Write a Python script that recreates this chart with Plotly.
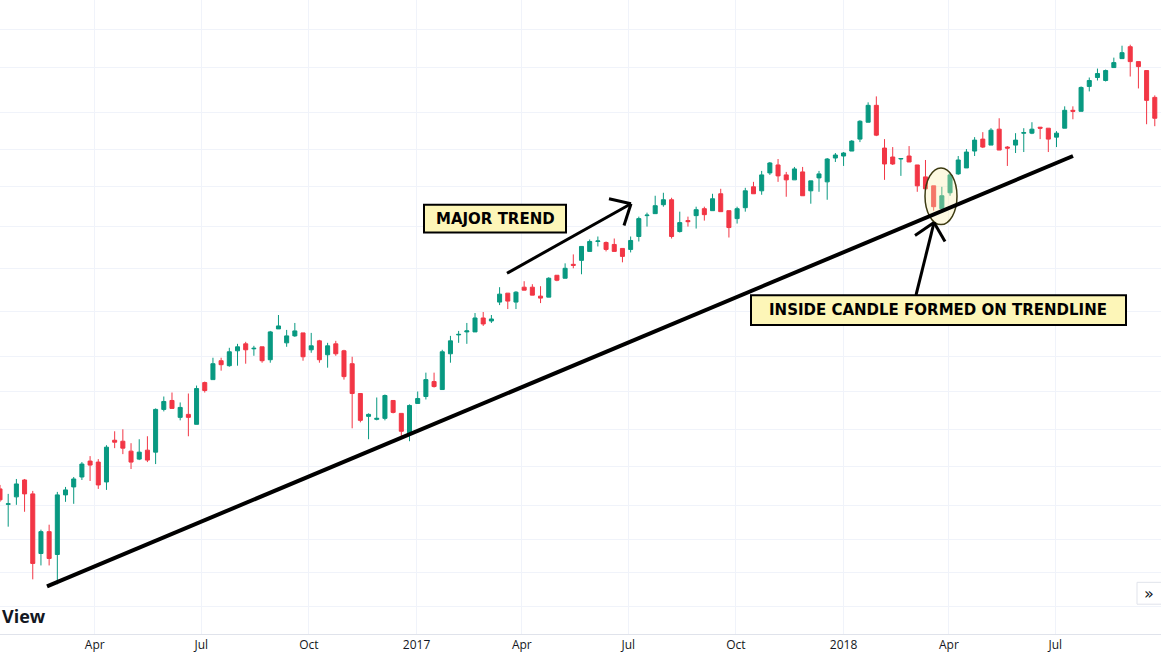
import plotly.graph_objects as go
import pandas as pd

# Pixel-height readings from the reference (screen y, top = 0); price = 638 - reading
open_y = [492,507.5,500,483,497,557,535,558,498,490,480,464,465,485,443,444,454,462,453,455,412,403,420,417,427,385,382,363,368,353,346,351,349,362,331,345,338,335,352,343,357,346,353,366,396,419,422,421,403,416,437,406,399,384,392,356,337,334,334,320,323,304,295,304,289,289,298,299,277,280,266,262,253,243,244,246,250,251,238,217,215,206,201,233,222,217,210,212,195,212,220,209,188,192,174,166,176,181,173,192,179,183,159,157,152,140,123,106,149,158,160,157,166,178,187,210,194,175,169,152,140,146,130,148,146,134,134,128,129,138,129,111,112,87,78,81,68,59,47,62,71,98]
high_y = [488,497,482,482,494,533,528,495,490,480,465,459,462,448,434,432,446,442,439,411,399,395,405,396,388,384,360,360,350,346,344,348,349,333,317,332,325,335,335,342,345,343,352,359,396,416,400,397,403,416,407,394,375,375,352,338,333,325,315,314,317,289,295,293,283,286,288,279,277,265,256,248,241,238,243,240,250,238,218,214,197,194,199,213,218,208,208,195,190,212,208,189,183,172,163,160,173,168,168,182,172,159,154,153,141,121,103,97,140,148,159,147,166,161,187,188,174,157,150,138,133,129,119,147,134,129,123,128,129,132,107,107,87,78,69,70,58,46,45,62,71,96]
low_y = [505,530,508,515,583,569,569,588,505,507,483,484,492,493,451,457,472,463,465,467,414,411,423,439,427,395,382,373,369,368,366,358,365,365,331,349,339,363,355,365,370,358,382,431,425,442,423,423,416,439,444,406,402,390,392,365,345,346,334,328,325,307,311,311,292,297,305,299,283,280,270,276,253,248,253,253,264,254,243,228,215,208,240,234,228,230,222,212,213,239,225,213,195,196,176,183,198,181,197,205,193,201,163,167,152,143,123,137,181,166,177,163,193,190,212,212,197,176,169,157,149,146,151,167,154,153,135,140,153,148,129,120,112,92,81,82,68,59,77,89,125,127]
close_y = [503,507,487,497,567,535,562,498,493,482,467,468,488,450,445,451,465,455,463,412,404,411,410,420,391,393,366,367,354,349,352,350.5,363,334,328,338,333,359,348,362,348,356,379,396,423,417,421,398,415,434,408,401,382,389,354,343,336.5,333,320,326,321,296,303,294,292,297,300,280,282,270,267,248,243,242.5,251,253,258,242,220,216.5,207,201,238,224,223,211,216,200,213,229,210,192,195,176,164,177,181,170,197,182,175,160,156,154,142,122,106,136,165,165,159.5,163,187,190,208,197,176,161,153,141,148,131,151,149,141,133.5,130,129,140,134,111,112,88,81,74,71,63,53,62,67,101,119]

BASE = 638
opens = [BASE - v for v in open_y]
highs = [BASE - v for v in high_y]
lows = [BASE - v for v in low_y]
closes = [BASE - v for v in close_y]

start = pd.Timestamp("2016-01-11")
dates = [start + pd.Timedelta(weeks=i) for i in range(len(opens))]

tick_dates = ["2016-01-01", "2016-04-01", "2016-07-01", "2016-10-01", "2017-01-01", "2017-04-01", "2017-07-01",
              "2017-10-01", "2018-01-01", "2018-04-01", "2018-07-01", "2018-10-01"]
tick_text = ["2016", "Apr", "Jul", "Oct", "2017", "Apr", "Jul", "Oct", "2018", "Apr", "Jul", "Oct"]
grid_y = [30, 68, 113, 150, 188, 228, 270, 313, 359, 394, 432, 469, 509, 543, 576, 610]

W, H, PB = 1161, 653, 638

def px(x):
    return x / W

def py(y):
    return (PB - y) / PB

fig = go.Figure(go.Candlestick(
    x=dates, open=opens, high=highs, low=lows, close=closes,
    increasing=dict(line=dict(color="#089981", width=1), fillcolor="#089981"),
    decreasing=dict(line=dict(color="#F23645", width=1), fillcolor="#F23645"),
    whiskerwidth=0, showlegend=False, hoverinfo="skip"))

end = start + pd.Timedelta(weeks=W / 8.19)
shapes = []

def line(x0, y0, x1, y1, w=4):
    shapes.append(dict(type="line", xref="paper", yref="paper", x0=px(x0), y0=py(y0),
                       x1=px(x1), y1=py(y1), line=dict(color="black", width=w)))

shapes.append(dict(type="circle", xref="paper", yref="paper", x0=px(925), x1=px(957),
                   y0=py(226), y1=py(169), fillcolor="rgba(250,238,170,0.35)",
                   line=dict(color="#3d3b12", width=1.5)))
line(47, 590, 1073, 157, 4)
line(507, 275, 631, 205, 3)
line(631, 205, 609, 200, 3)
line(631, 205, 624, 227, 3)
line(916, 297, 934, 224, 3)
line(934, 224, 915, 237, 3)
line(934, 224, 945, 243, 3)
for (x0, y0, x1, y1) in [(424, 206, 566, 234), (751, 297, 1126, 327)]:
    shapes.append(dict(type="rect", xref="paper", yref="paper", x0=px(x0), x1=px(x1),
                       y0=py(y1), y1=py(y0), fillcolor="#fdf6b8", line=dict(color="black", width=2)))
shapes.append(dict(type="rect", xref="paper", yref="paper", x0=px(1137), x1=px(1163),
                   y0=py(608), y1=py(586), fillcolor="white", line=dict(color="#e0e3eb", width=1)))

annotations = [
    dict(text="<b>MAJOR TREND</b>", x=px(495), y=py(220), xanchor="center", yanchor="middle",
         xref="paper", yref="paper", showarrow=False,
         font=dict(family="DejaVu Sans", size=15, color="black")),
    dict(text="<b>INSIDE CANDLE FORMED ON TRENDLINE</b>", x=px(938), y=py(312), xanchor="center",
         yanchor="middle", xref="paper", yref="paper", showarrow=False,
         font=dict(family="DejaVu Sans", size=15, color="black")),
    dict(text="<b>View</b>", x=0, y=py(620), xref="paper", yref="paper", xanchor="left", yanchor="middle",
         showarrow=False, font=dict(family="Open Sans", size=18, color="#131722")),
    dict(text="»", x=px(1149), y=py(597), xref="paper", yref="paper", xanchor="center", yanchor="middle",
         showarrow=False, font=dict(family="DejaVu Sans", size=16, color="#131722")),
]

fig.update_layout(
    width=W, height=H, margin=dict(l=0, r=0, t=0, b=H - PB),
    paper_bgcolor="white", plot_bgcolor="white",
    shapes=shapes, annotations=annotations,
    xaxis=dict(type="date", range=[start, end], rangeslider=dict(visible=False),
               tickvals=tick_dates, ticktext=tick_text, showgrid=True, gridcolor="#f0f3fa",
               tickfont=dict(family="Open Sans", size=12, color="#131722"), zeroline=False,
               showline=True, linecolor="#e0e3eb", ticks=""),
    yaxis=dict(range=[0, PB], tickvals=[BASE - g for g in grid_y], showticklabels=False,
               showgrid=True, gridcolor="#f0f3fa", zeroline=False),
)

fig.write_html("out.html", config={"displayModeBar": False},
               post_script="document.body.style.margin='0';document.body.style.overflow='hidden';")
